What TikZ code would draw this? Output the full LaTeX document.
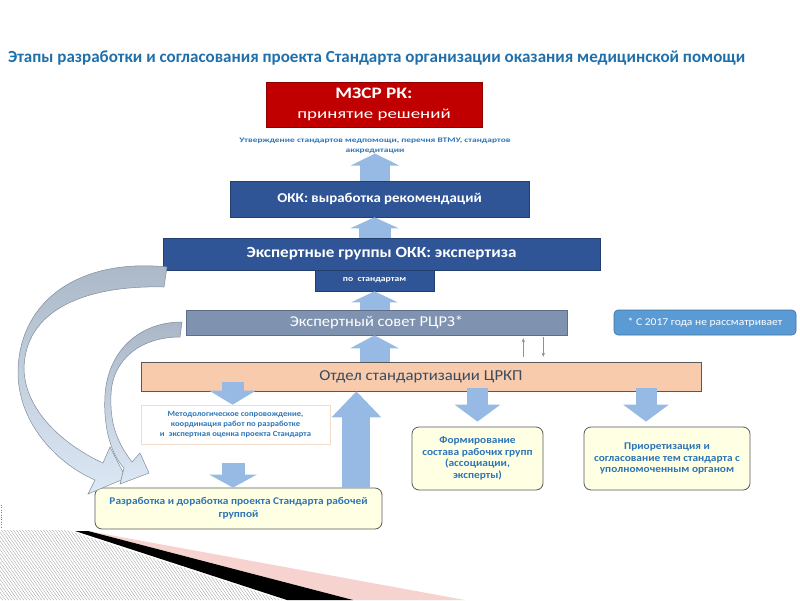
\documentclass[tikz,border=0pt]{standalone}
\usepackage{fontspec}
\setmainfont{Carlito}
\newfontfamily\cw[FakeStretch=1.1]{Carlito}
\newfontfamily\cwa[FakeStretch=1.2]{Carlito}
\newfontfamily\cww[FakeStretch=1.35]{Carlito}
\usetikzlibrary{arrows.meta,calc}
\definecolor{titleblue}{HTML}{1F6FAB}
\definecolor{txtblue}{HTML}{2E75B6}
\definecolor{mzred}{HTML}{C00000}
\definecolor{mzredb}{HTML}{8B0000}
\definecolor{dblue}{HTML}{2F5597}
\definecolor{dblueb}{HTML}{223F70}
\definecolor{council}{HTML}{7F93B1}
\definecolor{councilb}{HTML}{5E6E86}
\definecolor{notefill}{HTML}{5B9BD5}
\definecolor{noteb}{HTML}{41719C}
\definecolor{orangef}{HTML}{F8CBAD}
\definecolor{greyb}{HTML}{595959}
\definecolor{orangetxt}{HTML}{3B4B5E}
\definecolor{methb}{HTML}{F2DCCB}
\definecolor{yelf}{HTML}{FFFFE3}
\definecolor{arrowc}{HTML}{97BAE4}
\definecolor{curvtop}{HTML}{A9B7C6}
\definecolor{curvbot}{HTML}{DDE8F5}
\definecolor{curvb}{HTML}{7D8C9C}
\definecolor{pinkw}{HTML}{F6D3CF}
\newcommand{\fs}[1]{\fontsize{#1}{#1}\selectfont}
\begin{document}
\begin{tikzpicture}[x=1pt,y=-1pt,
  box/.style={draw, rectangle, inner sep=0pt, line width=0.6pt},
  darkbox/.style={box, fill=dblue, draw=dblueb, text=white},
  ybox/.style={box, rounded corners=7pt, fill=yelf, draw=greyb, text=txtblue, align=center, line width=0.8pt},
  barrow/.style={draw=arrowc, line width=#1},
  thinarrow/.style={-{Stealth[length=4pt,width=3.5pt]}, draw=curvtop!80!black, line width=0.6pt},
  curved/.style={top color=curvtop, bottom color=curvbot, draw=curvb, line width=0.5pt}]
\useasboundingbox (0,0) rectangle (800,600);

% title
\node[anchor=west, text=titleblue, font=\fs{17}\bfseries, inner sep=0pt] (title) at (8,58)
  {Этапы разработки и согласования проекта Стандарта организации оказания медицинской помощи};

% boxes
\node[box, fill=mzred, draw=mzredb, text=white, minimum width=216pt, minimum height=45pt, align=center] (mzsr) at (374,104.5)
  {{\cwa\fs{16}\bfseries МЗСР РК:}\\[8pt]{\cww\fs{14}принятие решений}};
\node[text=txtblue, align=center, inner sep=0pt, font=\cww\fs{7}\bfseries] (cap) at (375,145.5)
  {Утверждение стандартов медпомощи, перечня ВТМУ, стандартов\\[3pt]аккредитации};
\node[darkbox, minimum width=299pt, minimum height=36pt, font=\cw\fs{13.5}\bfseries] (okk) at (379.5,199)
  {ОКК: выработка рекомендаций};
\node[darkbox, minimum width=437pt, minimum height=32pt, font=\cw\fs{15.5}\bfseries] (egr) at (381.5,254)
  {Экспертные группы ОКК: экспертиза};
\node[darkbox, minimum width=119pt, minimum height=21pt, font=\cwa\fs{8}\bfseries] (pst) at (374.5,280.5)
  {по\; стандартам};
\node[box, fill=council, draw=councilb, text=white, minimum width=381pt, minimum height=25pt, font=\cw\fs{15}] (cnc) at (376.5,322.5)
  {Экспертный совет РЦРЗ*};
\node[box, rounded corners=4pt, fill=notefill, draw=noteb, text=white, minimum width=182pt, minimum height=25pt, font=\cw\fs{10.5}] (note) at (705,322.5)
  {* С 2017 года не рассматривает};
\node[box, fill=orangef, draw=greyb, text=orangetxt, minimum width=560pt, minimum height=29pt, font=\cw\fs{15.2}] (otd) at (421,376.5)
  {Отдел стандартизации ЦРКП};
\node[box, fill=white, draw=methb, text=txtblue, minimum width=189pt, minimum height=39pt, align=center, font=\cw\fs{7.8}\bfseries] (meth) at (235.5,424.5)
  {Методологическое сопровождение,\\[2.2pt]координация работ по разработке\\[2.2pt]и\; экспертная оценка проекта Стандарта};
\node[ybox, minimum width=287pt, minimum height=41pt, font=\cw\fs{10.3}\bfseries] (dev) at (238.5,508.5)
  {Разработка и доработка проекта Стандарта рабочей\\[2.5pt]группой};
\node[ybox, minimum width=131pt, minimum height=63pt, font=\cw\fs{10.3}\bfseries] (form) at (477.5,458.5)
  {Формирование\\[1.2pt]состава рабочих групп\\[1.2pt](ассоциации,\\[1.2pt]эксперты)};
\node[ybox, minimum width=166pt, minimum height=63pt, font=\cw\fs{10.3}\bfseries] (prior) at (667,458.5)
  {Приоретизация и\\[1pt]согласование тем стандарта с\\[1pt]уполномоченным органом};

% block arrows
\draw[barrow=30pt, -{Triangle[width=48pt,length=12pt]}] (okk.north -| cap) -- (cap.south);
\draw[barrow=32pt, -{Triangle[width=48pt,length=11pt]}] (egr.north -| pst) -- (okk.south -| pst);
\draw[barrow=30pt, -{Triangle[width=46pt,length=11pt]}] (cnc.north -| pst) -- (pst.south);
\draw[barrow=30pt, -{Triangle[width=48pt,length=13pt]}] (otd.north -| pst) -- (cnc.south -| pst);
\coordinate (d1s) at ($(otd.south -| meth)+(-3,-9)$);
\draw[barrow=22pt, -{Triangle[width=46pt,length=14pt]}] (d1s) -- (d1s |- meth.north);
\coordinate (d2s) at ($(meth.south)+(-2.5,19)$);
\draw[barrow=23pt, -{Triangle[width=47pt,length=13pt]}] (d2s) -- (d2s |- dev.north);
\coordinate (ux) at ($(dev.north east)+(-26,0)$);
\draw[barrow=28pt, -{Triangle[width=48pt,length=26pt]}] (ux) -- (ux |- otd.south);
\draw[barrow=21pt, -{Triangle[width=45pt,length=17pt]}] ($(otd.south -| form)+(0,-3)$) -- ($(form.north)+(0,-5)$);
\coordinate (d4s) at ($(otd.south -| prior)+(-21,-3)$);
\draw[barrow=21pt, -{Triangle[width=45pt,length=17pt]}] (d4s) -- ($(d4s |- prior.north)+(0,-5)$);

% thin arrows
\coordinate (tu) at ($(cnc.south east)+(-44,0)$);
\coordinate (td) at ($(cnc.south east)+(-24,0)$);
\draw[thinarrow] ($(tu |- otd.north)+(0,-5)$) -- ($(tu)+(0,3)$);
\draw[thinarrow] ($(td)+(0,2)$) -- ($(td |- otd.north)+(0,-5)$);

% curved arrows
\path[curved] (167,267) .. controls (80,258) and (20,300) .. (18,370)
  .. controls (17,425) and (60,465) .. (95,480)
  -- (88,494) -- (126,478) -- (110,447) -- (103,463)
  .. controls (70,448) and (26,415) .. (24,370)
  .. controls (24,310) and (85,285) .. (164,287) -- cycle;
\path[curved] (182,322) .. controls (140,322) and (108,350) .. (105,395)
  .. controls (103,430) and (112,455) .. (124,468)
  -- (120,484) -- (149,473) -- (140,453) -- (132,462)
  .. controls (115,440) and (110,420) .. (111,395)
  .. controls (112,360) and (140,337) .. (180,337) -- cycle;

% bottom decoration
\begin{scope}
  \clip (0,530) -- (66,530) -- (282,600) -- (0,600) -- cycle;
  \foreach \i in {-60,-57,...,290} \draw[gray!75, line width=0.35pt] (\i,528) -- ++(52,74);
\end{scope}
\fill[pinkw] (88,531) -- (465,600) -- (353,600) -- cycle;
\fill[black] (75,531) -- (88,531) -- (353,600) -- (287,600) -- cycle;
\draw[dotted, gray] (1.5,505) -- (1.5,527);
\end{tikzpicture}
\end{document}
